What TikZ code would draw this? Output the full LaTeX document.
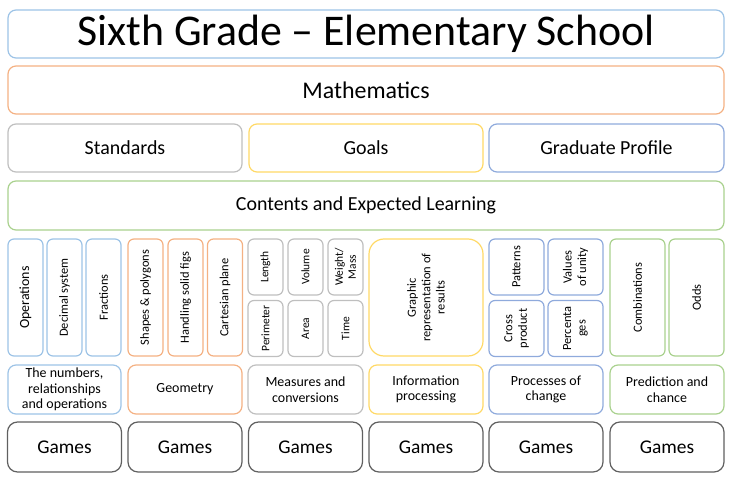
\documentclass[tikz,border=0pt]{standalone}
\usepackage{fontspec}
\setmainfont{Carlito}

\definecolor{cblue}{HTML}{9DC3E6}
\definecolor{corange}{HTML}{F4B183}
\definecolor{cgray}{HTML}{BFBFBF}
\definecolor{cyellow}{HTML}{FFD966}
\definecolor{cpurple}{HTML}{8FAADC}
\definecolor{cgreen}{HTML}{A9D18E}
\definecolor{cdark}{HTML}{606060}

\tikzset{
  box/.style={draw, line width=1.2bp, rounded corners=8bp, align=center, inner sep=1bp},
  col/.style={box, rotate=90, rounded corners=6bp, minimum width=117bp, minimum height=35bp,
    font=\fontsize{12.5}{14.5}\selectfont},
  half/.style={col, minimum width=56bp},
  area/.style={box, minimum width=114bp, minimum height=49bp, font=\fontsize{14}{15.5}\selectfont},
  gamebox/.style={box, draw=cdark, rounded corners=10bp, minimum width=114bp, minimum height=50bp,
    font=\fontsize{19.5}{22}\selectfont}
}

\begin{document}
\begin{tikzpicture}[x=1bp, y=-1bp]
    \useasboundingbox (0,0) rectangle (731,480);

    % Title and top rows
    \node[box, draw=cblue, minimum width=716bp, minimum height=48bp, font=\fontsize{44}{48}\selectfont]
      (title) at (366,34) {Sixth Grade -- Elementary School};
    \node[box, draw=corange, minimum width=716bp, minimum height=48bp, font=\fontsize{24}{26}\selectfont]
      (math) at (366,90) {Mathematics};
    \node[box, draw=cgray, minimum width=234bp, minimum height=48bp, font=\fontsize{20}{22}\selectfont]
      (standards) at (125,148) {Standards};
    \node[box, draw=cyellow, minimum width=234bp, minimum height=48bp, font=\fontsize{20}{22}\selectfont]
      (goals) at (366,148) {Goals};
    \node[box, draw=cpurple, minimum width=235bp, minimum height=48bp, font=\fontsize{20}{22}\selectfont]
      (profile) at (606.5,148) {Graduate Profile};
    \node[box, draw=cgreen, minimum width=716bp, minimum height=49bp, font=\fontsize{20}{22}\selectfont]
      (contents) at (366,205.5) {Contents and Expected Learning};

    % Numbers columns
    \node[col, draw=cblue, font=\fontsize{14}{16}\selectfont] (ops) at (25.5,297.5) {Operations};
    \node[col, draw=cblue] (decimal) at (64.5,297.5) {Decimal system};
    \node[col, draw=cblue] (fractions) at (103.5,297.5) {Fractions};

    % Geometry columns
    \node[col, draw=corange] (shapes) at (145.5,297.5) {Shapes \& polygons};
    \node[col, draw=corange] (solids) at (185.5,297.5) {Handling solid figs};
    \node[col, draw=corange] (cartesian) at (225,297.5) {Cartesian plane};

    % Measures cells
    \node[half, draw=cgray, font=\fontsize{11.5}{13}\selectfont] (length) at (265.5,267) {Length};
    \node[half, draw=cgray, font=\fontsize{11.5}{13}\selectfont] (volume) at (305.5,267) {Volume};
    \node[half, draw=cgray, font=\fontsize{11.5}{13}\selectfont] (weight) at (345.5,267) {Weight/\\Mass};
    \node[half, draw=cgray, font=\fontsize{11.5}{13}\selectfont] (perimeter) at (265.5,328.5) {Perimeter};
    \node[half, draw=cgray, font=\fontsize{11.5}{13}\selectfont] (area) at (305.5,328.5) {Area};
    \node[half, draw=cgray, font=\fontsize{11.5}{13}\selectfont] (time) at (345.5,328.5) {Time};

    % Information column
    \node[col, draw=cyellow, rounded corners=15bp, minimum height=114bp] (graphic) at (426,297.5)
      {Graphic\\representation of\\results};

    % Change cells
    \node[half, draw=cpurple, minimum height=55bp] (patterns) at (516.5,267) {Patterns};
    \node[half, draw=cpurple, minimum height=55bp] (unity) at (575.5,267) {Values\\of unity};
    \node[half, draw=cpurple, minimum height=55bp] (cross) at (516.5,328.5) {Cross\\product};
    \node[half, draw=cpurple, minimum height=55bp] (percent) at (575.5,328.5) {Percenta\\ges};

    % Chance columns
    \node[col, draw=cgreen, minimum height=55bp] (combin) at (637.5,297.5) {Combinations};
    \node[col, draw=cgreen, minimum height=55bp] (odds) at (696.5,297.5) {Odds};

    % Areas
    \node[area, draw=cblue, minimum width=113bp] (numbers) at (64.5,389.5)
      {The numbers,\\relationships\\and operations};
    \node[area, draw=corange] (geometry) at (185,389.5) {Geometry};
    \node[area, draw=cgray, minimum width=115bp] (measures) at (305.5,389.5) {Measures and\\conversions};
    \node[area, draw=cyellow] (info) at (426,389.5) {Information\\processing};
    \node[area, draw=cpurple] (change) at (546,389.5) {Processes of\\change};
    \node[area, draw=cgreen] (chance) at (667,389.5) {Prediction and\\chance};

    % Games row
    \foreach \gx [count=\i] in {64.5,185,305.5,426,546,667}
      \node[gamebox] (games\i) at (\gx,447) {Games};
\end{tikzpicture}
\end{document}
